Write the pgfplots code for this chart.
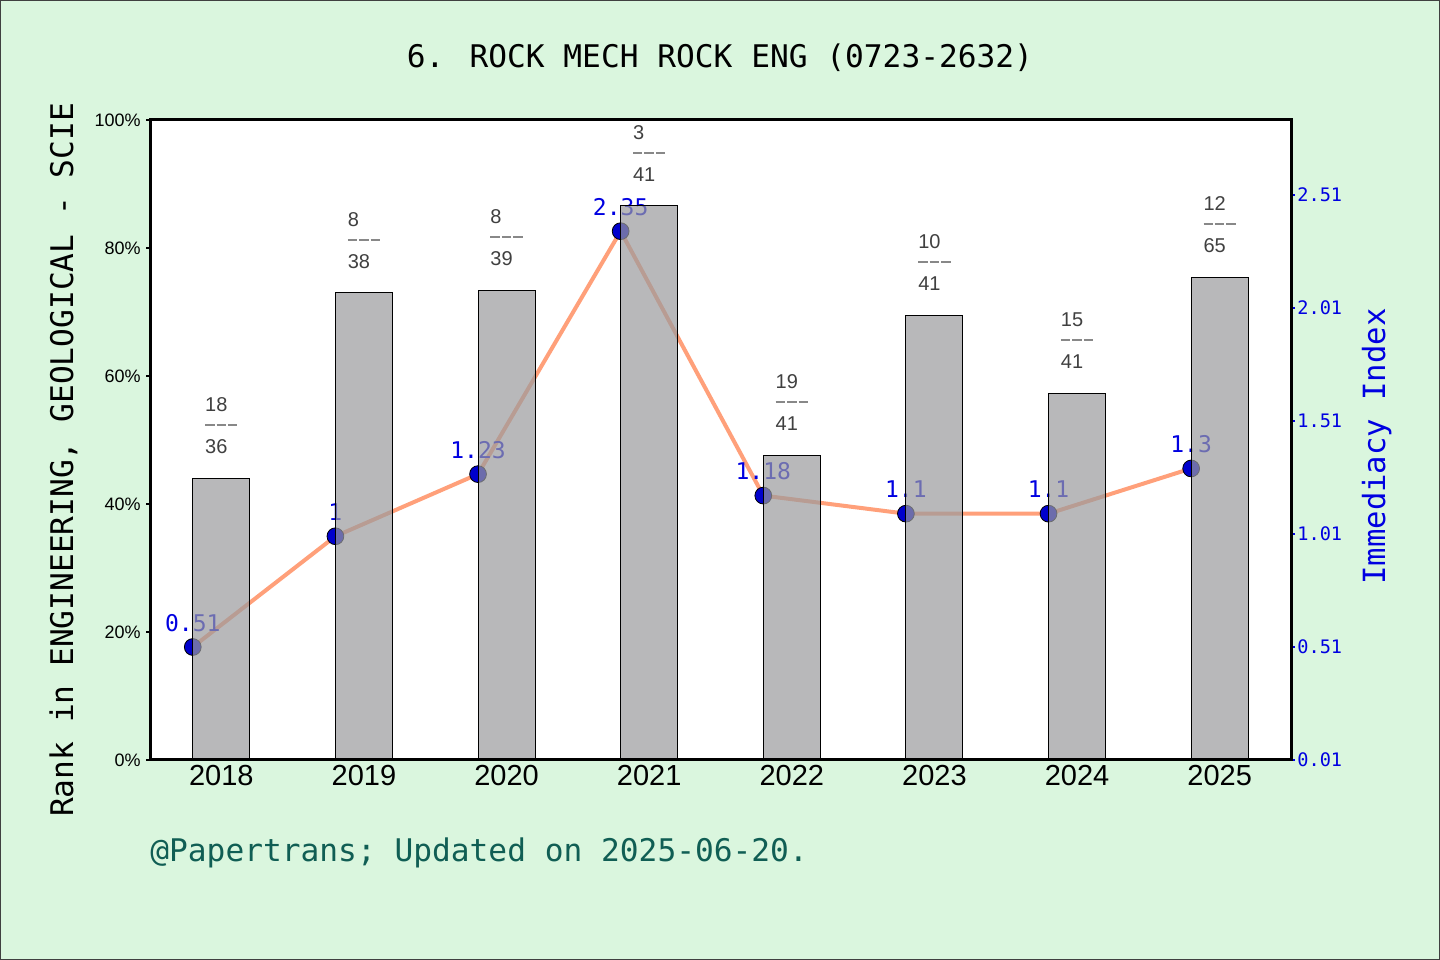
\documentclass[border=0pt]{standalone}
\usepackage{pgfplots}
\pgfplotsset{compat=1.18}
\usepackage{pgfplotstable}
\usepackage{fontspec}
\setmainfont{Liberation Sans}
\newfontfamily\mono{DejaVu Sans Mono}
\definecolor{bg}{RGB}{218,246,222}
\definecolor{barcol}{RGB}{154,155,158}
\definecolor{linecol}{RGB}{255,160,122}
\definecolor{markblue}{RGB}{0,0,205}
\definecolor{labblue}{RGB}{0,0,225}
\definecolor{footcol}{RGB}{16,94,84}
\definecolor{numgray}{RGB}{64,64,64}
\definecolor{dashgray}{RGB}{136,136,136}

\pgfplotstableread{
x y lab
-0.2 0.51 0.51
0.8 1 1
1.8 1.275 1.23
2.8 2.35 2.35
3.8 1.18 1.18
4.8 1.1 1.1
5.8 1.1 1.1
6.8 1.3 1.3
}\iitable

\pgfplotstableread{
x y lab
0 44.0 18/36
1 73.0 8/38
2 73.4 8/39
3 86.6 3/41
4 47.6 19/41
5 69.5 10/41
6 57.3 15/41
7 75.4 12/65
}\ranktable

\newcommand\dashrule{\textcolor{dashgray}{\rule[3.2bp]{4.7bp}{1bp}\hspace{1bp}\rule[3.2bp]{4.7bp}{1bp}\hspace{1bp}\rule[3.2bp]{4.7bp}{1bp}}}
\def\splitlab#1/#2\relax{#1\\\dashrule\\#2}

\begin{document}
\begin{tikzpicture}
\useasboundingbox (0,0) rectangle (720bp,480bp);
\fill[bg] (0,0) rectangle (720bp,480bp);
\draw[black!75, line width=0.6bp] (0.3bp,0.3bp) rectangle (719.7bp,479.7bp);
\fill[white] (75bp,100bp) rectangle (645.5bp,420bp);

% Immediacy index (right axis), drawn first so bars lie over it
\begin{axis}[
  at={(75bp,100bp)}, anchor=south west,
  scale only axis, width=570.5bp, height=320bp,
  xmin=-0.5, xmax=7.5, ymin=0.01, ymax=2.842,
  clip=false,
  axis x line=none,
  axis y line*=right,
  y axis line style={line width=1.5bp, black},
  ytick={0.01,0.51,1.01,1.51,2.01,2.51},
  yticklabels={0.01,0.51,1.01,1.51,2.01,2.51},
  tick align=outside,
  major tick length=2bp,
  ytick style={labblue, line width=0.6bp},
  yticklabel style={font=\mono\fontsize{9.3bp}{11bp}\selectfont, text=labblue, inner sep=0pt, anchor=west, xshift=1bp},
]
\addplot[color=linecol, line width=2bp, mark=*, mark size=4.2bp,
  mark options={fill=markblue, draw=black, line width=0.4bp},
  point meta=explicit symbolic,
  nodes near coords,
  nodes near coords style={font=\mono\fontsize{11.5bp}{13bp}\selectfont, text=labblue, anchor=base, inner sep=0pt, yshift=8bp},
] table[x=x, y=y, meta=lab] {\iitable};
\end{axis}

% Rank percentage bars (left axis)
\begin{axis}[
  at={(75bp,100bp)}, anchor=south west,
  scale only axis, width=570.5bp, height=320bp,
  xmin=-0.5, xmax=7.5, ymin=0, ymax=100,
  clip=false,
  axis on top,
  axis line style={line width=1.5bp, black},
  xtick={0,1,2,3,4,5,6,7},
  xticklabels={2018,2019,2020,2021,2022,2023,2024,2025},
  minor xtick={0.5,1.5,2.5,3.5,4.5,5.5,6.5},
  xtick pos=lower, ytick pos=left,
  xtick style={draw=none},
  minor tick length=2bp,
  minor x tick style={black, line width=0.5bp},
  xtick align=inside,
  ytick align=outside,
  ytick style={black, line width=0.6bp},
  major tick length=2bp,
  ytick={0,20,40,60,80,100},
  yticklabels={0\%,20\%,40\%,60\%,80\%,100\%},
  xticklabel style={font=\fontsize{14.5bp}{16bp}\selectfont, inner sep=0pt, anchor=north, yshift=-2.5bp},
  yticklabel style={font=\fontsize{9bp}{11bp}\selectfont, inner sep=0pt, anchor=east, xshift=-2.5bp},
]
\addplot[ybar, bar width=0.4, fill=barcol, fill opacity=0.7, draw=black, draw opacity=1, line width=0.5bp,
  point meta=explicit symbolic,
  nodes near coords={\expandafter\splitlab\pgfplotspointmeta\relax},
  nodes near coords style={fill opacity=1, text opacity=1, font=\fontsize{10bp}{10.5bp}\selectfont, text=numgray, align=left, anchor=south, inner sep=0pt, yshift=12bp},
] table[x=x, y=y, meta=lab] {\ranktable};
\end{axis}

\node[anchor=base, font=\mono\fontsize{15.6bp}{18bp}\selectfont] at (360bp,446bp) {6. ROCK MECH ROCK ENG (0723-2632)};
\node[rotate=90, anchor=base, font=\mono\fontsize{15.6bp}{18bp}\selectfont] at (36.5bp,250bp) {Rank in ENGINEERING, GEOLOGICAL - SCIE};
\node[rotate=90, anchor=base, font=\mono\fontsize{15.3bp}{18bp}\selectfont, text=labblue] at (692.5bp,256.75bp) {Immediacy Index};
\node[anchor=base west, inner sep=0pt, font=\mono\fontsize{15.6bp}{18bp}\selectfont, text=footcol] at (75bp,49bp) {@Papertrans; Updated on 2025-06-20.};
\end{tikzpicture}
\end{document}
